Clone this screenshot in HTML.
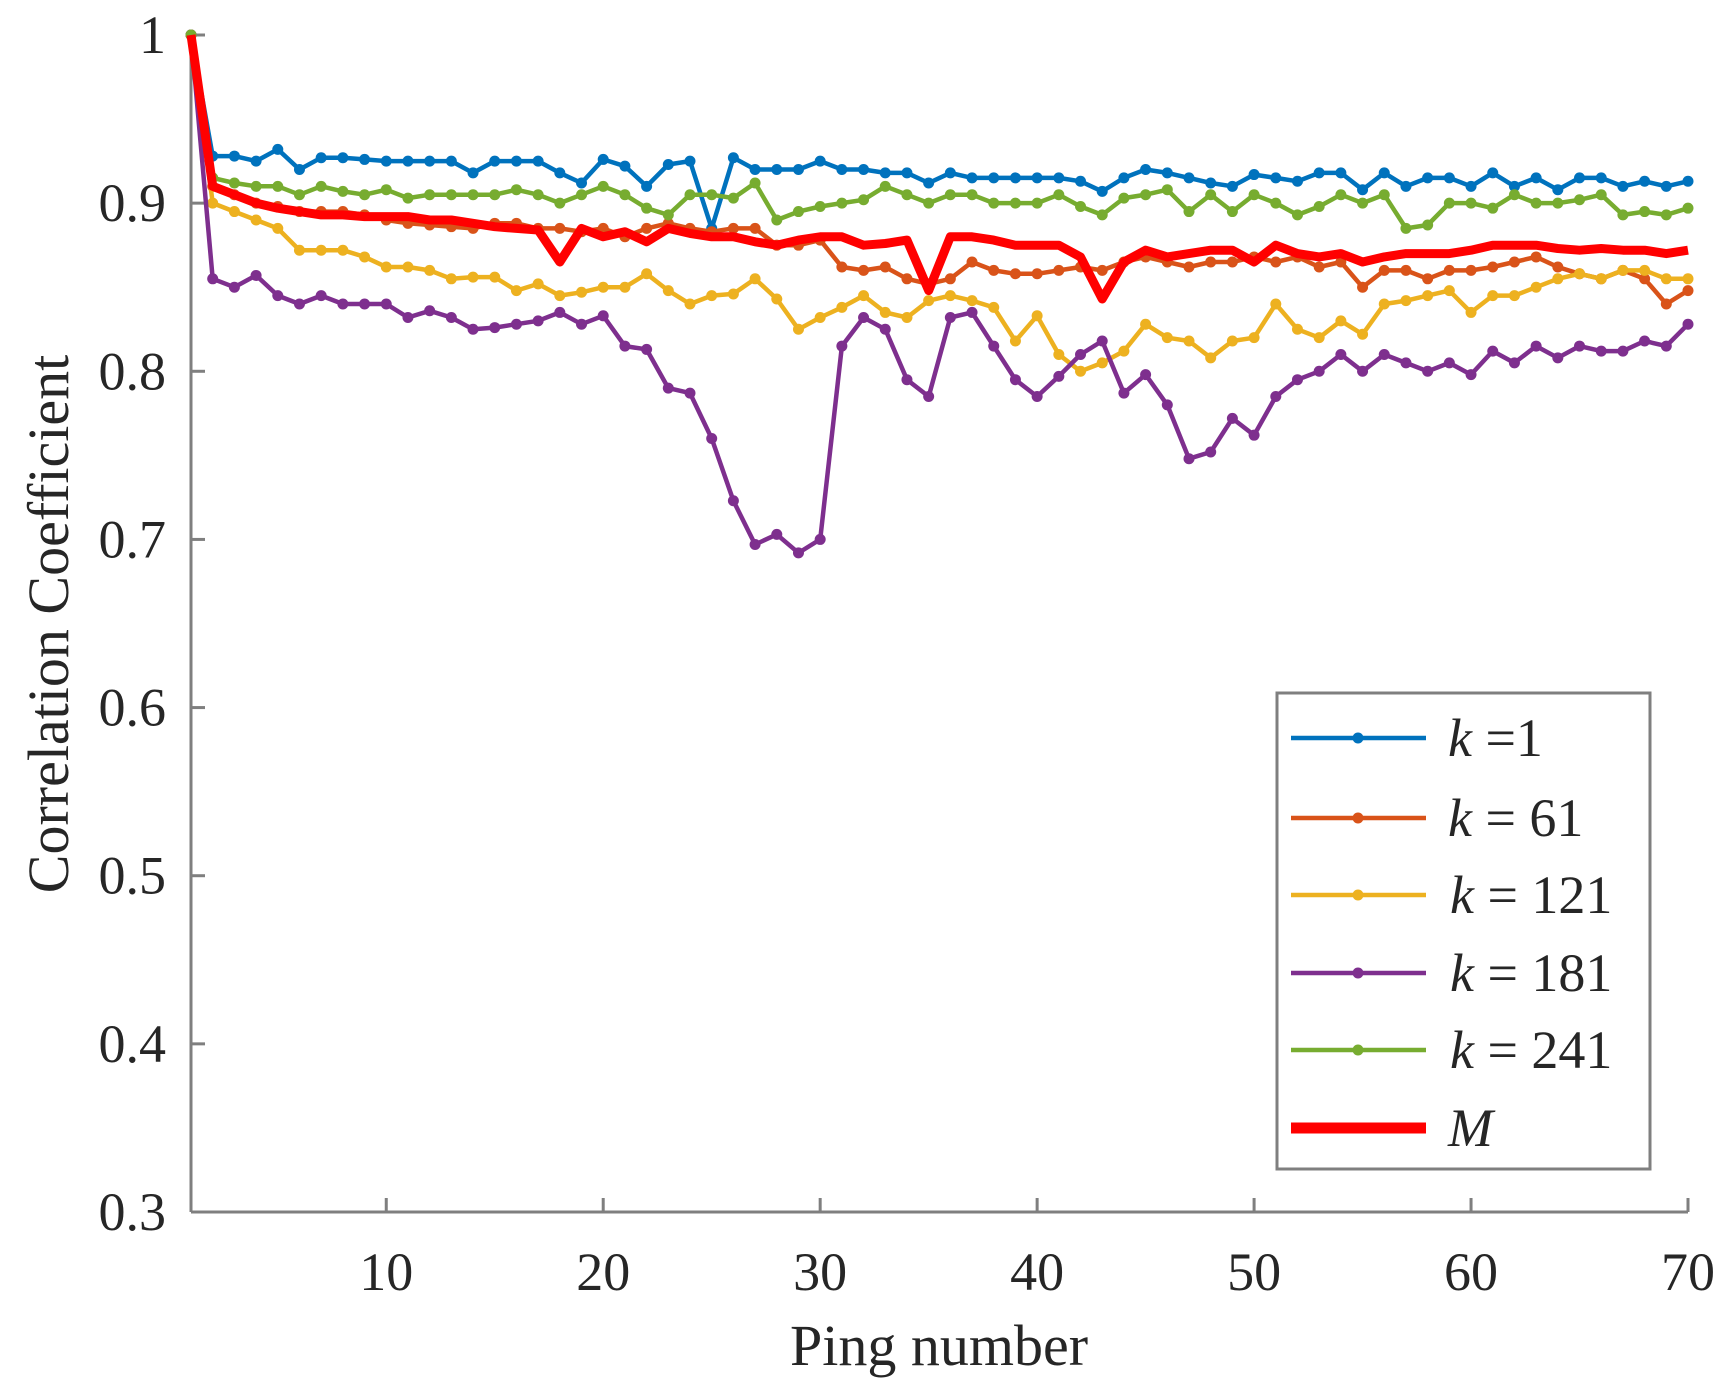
<!DOCTYPE html>
<html><head><meta charset="utf-8"><style>
html,body{margin:0;padding:0;background:#fff;}
svg{display:block;}
text{font-family:"Liberation Serif",serif;fill:#262626;}
</style></head><body>
<svg id="s" width="1733" height="1395" xmlns="http://www.w3.org/2000/svg"></svg>
<script>
const X0=191,X1=1688,YT=35,YB=1212;
const xs=i=>X0+(i-1)*(X1-X0)/69;
const ys=v=>YB-(v-0.3)/0.7*(YB-YT);
const D={
b:[1,.928,.928,.925,.932,.92,.927,.927,.926,.925,.925,.925,.925,.918,.925,.925,.925,.918,.912,.926,.922,.91,.923,.925,.885,.927,.92,.92,.92,.925,.92,.92,.918,.918,.912,.918,.915,.915,.915,.915,.915,.913,.907,.915,.92,.918,.915,.912,.91,.917,.915,.913,.918,.918,.908,.918,.91,.915,.915,.91,.918,.91,.915,.908,.915,.915,.91,.913,.91,.913],
o:[1,.91,.905,.9,.898,.895,.895,.895,.893,.89,.888,.887,.886,.885,.888,.888,.885,.885,.883,.885,.88,.885,.888,.885,.883,.885,.885,.875,.875,.878,.862,.86,.862,.855,.852,.855,.865,.86,.858,.858,.86,.862,.86,.865,.868,.865,.862,.865,.865,.868,.865,.868,.862,.865,.85,.86,.86,.855,.86,.86,.862,.865,.868,.862,.858,.855,.86,.855,.84,.848],
y:[1,.9,.895,.89,.885,.872,.872,.872,.868,.862,.862,.86,.855,.856,.856,.848,.852,.845,.847,.85,.85,.858,.848,.84,.845,.846,.855,.843,.825,.832,.838,.845,.835,.832,.842,.845,.842,.838,.818,.833,.81,.8,.805,.812,.828,.82,.818,.808,.818,.82,.84,.825,.82,.83,.822,.84,.842,.845,.848,.835,.845,.845,.85,.855,.858,.855,.86,.86,.855,.855],
p:[1,.855,.85,.857,.845,.84,.845,.84,.84,.84,.832,.836,.832,.825,.826,.828,.83,.835,.828,.833,.815,.813,.79,.787,.76,.723,.697,.703,.692,.7,.815,.832,.825,.795,.785,.832,.835,.815,.795,.785,.797,.81,.818,.787,.798,.78,.748,.752,.772,.762,.785,.795,.8,.81,.8,.81,.805,.8,.805,.798,.812,.805,.815,.808,.815,.812,.812,.818,.815,.828],
g:[1,.915,.912,.91,.91,.905,.91,.907,.905,.908,.903,.905,.905,.905,.905,.908,.905,.9,.905,.91,.905,.897,.893,.905,.905,.903,.912,.89,.895,.898,.9,.902,.91,.905,.9,.905,.905,.9,.9,.9,.905,.898,.893,.903,.905,.908,.895,.905,.895,.905,.9,.893,.898,.905,.9,.905,.885,.887,.9,.9,.897,.905,.9,.9,.902,.905,.893,.895,.893,.897],
r:[1,.91,.905,.9,.897,.895,.893,.893,.892,.892,.892,.89,.89,.888,.886,.885,.884,.865,.885,.88,.883,.877,.885,.882,.88,.88,.877,.875,.878,.88,.88,.875,.876,.878,.848,.88,.88,.878,.875,.875,.875,.868,.843,.865,.872,.868,.87,.872,.872,.865,.875,.87,.868,.87,.865,.868,.87,.87,.87,.872,.875,.875,.875,.873,.872,.873,.872,.872,.87,.872]};
const C={b:'#0072BD',o:'#D95319',y:'#EDB120',p:'#7E2F8E',g:'#77AC30',r:'#FF0000'};
let h='';
h+=`<line x1="${X0}" y1="${YT-5}" x2="${X0}" y2="${YB}" stroke="#7f7f7f" stroke-width="3"/>`;
h+=`<line x1="${X0}" y1="${YB}" x2="${X1}" y2="${YB}" stroke="#7f7f7f" stroke-width="3"/>`;
for(let k=3;k<=10;k++){const v=k/10,y=ys(v);
 h+=`<line x1="${X0}" y1="${y}" x2="${X0+14}" y2="${y}" stroke="#7f7f7f" stroke-width="3"/>`;
 h+=`<text x="166" y="${y+18}" font-size="54" text-anchor="end">${k==10?'1':'0.'+k}</text>`;}
for(let k=10;k<=70;k+=10){const x=xs(k);
 h+=`<line x1="${x}" y1="${YB}" x2="${x}" y2="${YB-14}" stroke="#7f7f7f" stroke-width="3"/>`;
 h+=`<text x="${x}" y="1290" font-size="54" text-anchor="middle">${k}</text>`;}
h+=`<text x="939" y="1365" font-size="58" text-anchor="middle">Ping number</text>`;
h+=`<text transform="translate(68,624) rotate(-90)" font-size="58" text-anchor="middle">Correlation Coefficient</text>`;
for(const k of ['b','o','y','p','g','r']){
 const pts=D[k].map((v,i)=>xs(i+1).toFixed(1)+','+ys(v).toFixed(1)).join(' ');
 h+=`<polyline points="${pts}" fill="none" stroke="${C[k]}" stroke-width="${k=='r'?9:4.5}" stroke-linejoin="round"/>`;
 if(k!='r') D[k].forEach((v,i)=>{h+=`<circle cx="${xs(i+1)}" cy="${ys(v)}" r="5.5" fill="${C[k]}"/>`;});
}
h+=`<rect x="1277" y="693" width="373" height="476" fill="#fff" stroke="#7f7f7f" stroke-width="3"/>`;
const L=[['b','1'],['o','61'],['y','121'],['p','181'],['g','241'],['r','M']];
const LY=[738,818,895,973,1050,1128];
L.forEach(([k,t],i)=>{const y=LY[i];
 h+=`<line x1="1291" y1="${y}" x2="1426" y2="${y}" stroke="${C[k]}" stroke-width="${k=='r'?11:4.5}"/>`;
 if(k!='r'){h+=`<circle cx="1358" cy="${y}" r="5.5" fill="${C[k]}"/>`;
  h+=`<text x="${t.length>2?1450:1448}" y="${y+18}" font-size="54"><tspan font-style="italic">k</tspan> =${t.length==1?'':' '}${t}</text>`;}
 else h+=`<text x="1448" y="${y+18}" font-size="54" font-style="italic">M</text>`;
});
document.getElementById('s').innerHTML=h;
</script>
</body></html>
